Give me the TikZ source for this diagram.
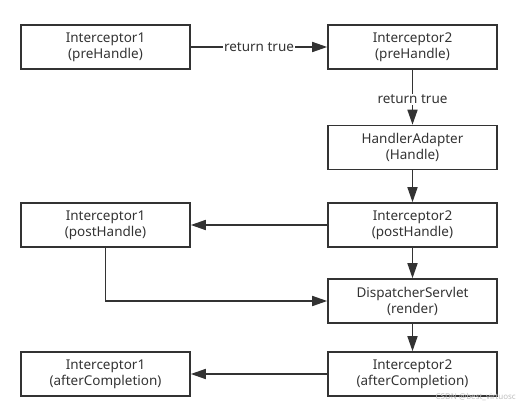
\documentclass[tikz,border=0pt]{standalone}
\usepackage{fontspec}
\setmainfont{Noto Sans}
\usetikzlibrary{arrows.meta}
\definecolor{ink}{HTML}{333333}
\tikzset{
  box/.style={draw=ink, line width=1.6pt, minimum width=169pt, minimum height=44pt, inner sep=0pt,
    align=center, font=\fontsize{13.5}{16}\selectfont, text=ink},
  conn/.style={draw=ink, line width=1.6pt, -{Triangle[length=15pt,width=10pt]}},
  lbl/.style={fill=white, inner sep=1pt, font=\fontsize{13.5}{16}\selectfont, text=ink}
}
\begin{document}
\begin{tikzpicture}[x=1pt,y=-1pt]
\useasboundingbox (0,0) rectangle (517,410);
\node[box] (i1pre) at (105.5,47) {Interceptor1\\(preHandle)};
\node[box] (i2pre) at (412.5,47) {Interceptor2\\(preHandle)};
\node[box] (ha) at (412.5,147.5) {HandlerAdapter\\(Handle)};
\node[box] (i2post) at (412.5,225) {Interceptor2\\(postHandle)};
\node[box] (i1post) at (105.5,225) {Interceptor1\\(postHandle)};
\node[box] (ds) at (412.5,301) {DispatcherServlet\\(render)};
\node[box] (i2after) at (412.5,374) {Interceptor2\\(afterCompletion)};
\node[box] (i1after) at (105.5,374) {Interceptor1\\(afterCompletion)};
\draw[conn] (i1pre) -- node[lbl] {return true} (i2pre);
\draw[conn] (i2pre) -- node[lbl, pos=0.54] {return true} (ha);
\draw[conn] (ha) -- (i2post);
\draw[conn] (i2post) -- (i1post);
\draw[conn] (i2post) -- (ds);
\draw[conn] (i1post) |- (ds);
\draw[conn] (ds) -- (i2after);
\draw[conn] (i2after) -- (i1after);
\node[anchor=east, text=black!25, font=\fontsize{8}{9}\selectfont, inner sep=0pt] (wm) at (516,397) {CSDN @best\_virtuosc};
\end{tikzpicture}
\end{document}
